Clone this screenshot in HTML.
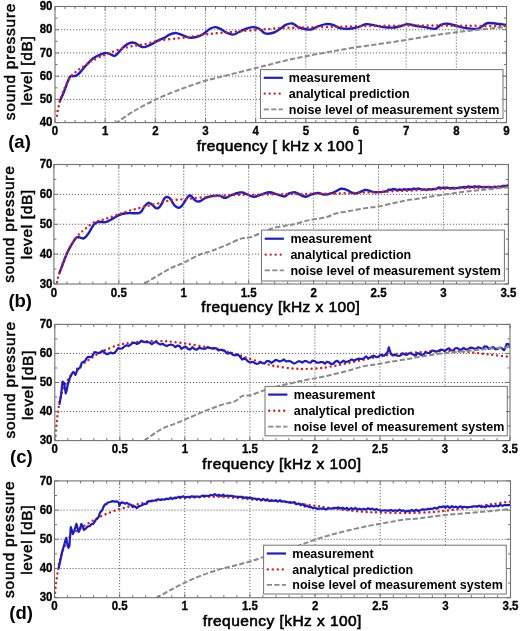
<!DOCTYPE html>
<html><head><meta charset="utf-8"><title>Sound pressure level plots</title>
<style>html,body{margin:0;padding:0;background:#fff;width:520px;height:631px;overflow:hidden}svg{display:block}</style>
</head><body>
<svg width="520" height="631" viewBox="0 0 520 631" font-family="'Liberation Sans', Arial, Helvetica, sans-serif" font-weight="bold" fill="#000">
<rect width="520" height="631" fill="#fff"/>
<clipPath id="clipa"><rect x="55.00" y="6.50" width="451.50" height="116.10"/></clipPath>
<path d="M105.17,6.50V122.60M155.33,6.50V122.60M205.50,6.50V122.60M255.67,6.50V122.60M305.83,6.50V122.60M356.00,6.50V122.60M406.17,6.50V122.60M456.33,6.50V122.60M55.00,99.38H506.50M55.00,76.16H506.50M55.00,52.94H506.50M55.00,29.72H506.50" stroke="#6c6c6c" stroke-width="1" stroke-dasharray="1.2 1.8" fill="none"/>
<g clip-path="url(#clipa)">
<path d="M59.72,101.47 C60.39,99.92 62.14,96.21 63.78,92.18 C65.42,88.16 68.00,79.99 69.55,77.32 C71.10,74.65 71.89,76.47 73.06,76.16 C74.23,75.85 75.40,76.08 76.57,75.46 C77.74,74.84 78.37,74.26 80.08,72.44 C81.80,70.63 84.77,66.83 86.86,64.55 C88.95,62.27 90.66,60.29 92.62,58.74 C94.59,57.20 96.55,56.23 98.65,55.26 C100.74,54.29 103.24,53.13 105.17,52.94 C107.09,52.75 108.59,53.60 110.18,54.10 C111.77,54.60 113.19,56.35 114.70,55.96 C116.20,55.57 117.54,53.44 119.21,51.78 C120.89,50.11 122.81,47.48 124.73,45.97 C126.65,44.46 129.00,43.19 130.75,42.72 C132.51,42.26 133.76,42.65 135.27,43.19 C136.77,43.73 138.28,45.32 139.78,45.97 C141.29,46.63 142.37,47.41 144.30,47.13 C146.22,46.86 148.98,45.47 151.32,44.35 C153.66,43.23 156.09,41.52 158.34,40.40 C160.60,39.28 163.03,38.58 164.87,37.61 C166.70,36.65 167.62,35.37 169.38,34.60 C171.14,33.82 173.23,32.89 175.40,32.97 C177.57,33.05 180.17,34.29 182.42,35.06 C184.68,35.83 186.52,37.31 188.94,37.61 C191.37,37.92 194.46,37.61 196.97,36.92 C199.48,36.22 201.82,34.79 204.00,33.44 C206.17,32.08 208.09,29.84 210.01,28.79 C211.94,27.75 213.61,27.05 215.53,27.17 C217.46,27.28 219.63,28.52 221.55,29.49 C223.48,30.46 225.15,32.12 227.07,32.97 C228.99,33.82 231.17,34.71 233.09,34.60 C235.01,34.48 236.52,33.24 238.61,32.27 C240.70,31.31 243.29,29.64 245.63,28.79 C247.97,27.94 250.40,27.17 252.66,27.17 C254.91,27.17 257.09,27.75 259.18,28.79 C261.27,29.84 262.86,32.78 265.20,33.44 C267.54,34.09 270.72,33.51 273.23,32.74 C275.73,31.96 278.16,30.11 280.25,28.79 C282.34,27.48 283.76,25.73 285.77,24.84 C287.77,23.95 290.20,23.06 292.29,23.45 C294.38,23.84 296.39,26.28 298.31,27.17 C300.23,28.06 301.74,28.40 303.83,28.79 C305.92,29.18 308.51,29.87 310.85,29.49 C313.19,29.10 315.37,27.36 317.87,26.47 C320.38,25.58 323.39,24.42 325.90,24.15 C328.41,23.88 330.58,24.19 332.92,24.84 C335.26,25.50 337.27,27.44 339.95,28.09 C342.62,28.75 345.97,28.95 348.98,28.79 C351.99,28.64 355.16,27.94 358.01,27.17 C360.85,26.39 363.27,24.46 366.03,24.15 C368.79,23.84 371.64,24.81 374.56,25.31 C377.49,25.81 380.58,26.78 383.59,27.17 C386.60,27.55 390.03,27.75 392.62,27.63 C395.21,27.51 396.72,27.05 399.14,26.47 C401.57,25.89 404.41,24.26 407.17,24.15 C409.93,24.03 412.77,25.27 415.70,25.77 C418.62,26.28 421.47,26.66 424.73,27.17 C427.99,27.67 432.59,29.18 435.26,28.79 C437.94,28.40 438.69,25.70 440.78,24.84 C442.87,23.99 445.13,23.49 447.81,23.68 C450.48,23.88 453.74,25.27 456.83,26.00 C459.93,26.74 462.85,27.63 466.37,28.09 C469.88,28.56 474.48,29.60 477.90,28.79 C481.33,27.98 483.84,24.07 486.94,23.22 C490.03,22.37 493.21,23.41 496.47,23.68 C499.73,23.95 504.83,24.65 506.50,24.84" stroke="#1d1dc8" stroke-width="2.4" fill="none" stroke-linejoin="round" stroke-linecap="round"/>
<path d="M57.01,115.63 C57.34,113.85 57.88,109.21 59.01,104.95 C60.14,100.70 61.86,94.74 63.78,90.09 C65.70,85.45 68.39,80.22 70.55,77.09 C72.72,73.95 75.05,72.79 76.77,71.28 C78.49,69.77 79.33,69.08 80.89,68.03 C82.44,66.99 84.31,66.21 86.10,65.01 C87.89,63.81 88.44,62.54 91.62,60.83 C94.80,59.13 100.57,56.69 105.17,54.80 C109.77,52.90 114.53,50.93 119.21,49.46 C123.90,47.99 128.66,46.94 133.26,45.97 C137.86,45.01 142.29,44.58 146.81,43.65 C151.32,42.72 155.00,41.29 160.35,40.40 C165.70,39.51 173.56,38.97 178.91,38.31 C184.26,37.65 187.86,37.11 192.46,36.45 C197.06,35.80 201.49,34.98 206.50,34.36 C211.52,33.74 217.21,33.24 222.56,32.74 C227.91,32.24 232.84,31.81 238.61,31.35 C244.38,30.88 251.82,30.38 257.17,29.95 C262.52,29.53 266.12,29.14 270.72,28.79 C275.32,28.44 278.24,28.09 284.76,27.86 C291.28,27.63 300.65,27.59 309.85,27.40 C319.04,27.20 329.91,26.93 339.95,26.70 C349.98,26.47 360.10,26.18 370.05,26.00 C380.00,25.83 389.44,25.73 399.64,25.66 C409.85,25.58 420.13,25.52 431.25,25.54 C442.37,25.56 453.82,25.70 466.37,25.77 C478.91,25.85 499.81,25.97 506.50,26.00" stroke="#d42020" stroke-width="2.45" fill="none" stroke-dasharray="0 4.8" stroke-linecap="round"/>
<path d="M115.20,123.53 C118.42,121.40 127.70,114.78 134.51,110.76 C141.33,106.73 148.39,102.98 156.09,99.38 C163.79,95.78 172.52,92.26 180.72,89.16 C188.92,86.07 197.11,83.24 205.30,80.80 C213.49,78.37 220.65,76.86 229.88,74.53 C239.11,72.21 250.45,69.43 260.68,66.87 C270.92,64.32 281.04,61.49 291.28,59.21 C301.53,56.93 311.85,55.07 322.14,53.17 C332.42,51.28 341.49,49.65 352.99,47.83 C364.49,46.01 380.33,43.88 391.12,42.26 C401.90,40.63 409.43,39.39 417.71,38.08 C425.98,36.76 433.09,35.49 440.78,34.36 C448.47,33.24 456.17,32.27 463.86,31.35 C471.55,30.42 479.83,29.49 486.94,28.79 C494.04,28.09 503.24,27.44 506.50,27.17" stroke="#8a8a8a" stroke-width="2" fill="none" stroke-dasharray="5.2 2.3"/>
</g>
<rect x="260.50" y="69.60" width="242.50" height="48.80" fill="#fff" stroke="#737373" stroke-width="1"/>
<path d="M263.70,77.80H282.90" stroke="#1d1dc8" stroke-width="2.2"/>
<path d="M264.70,93.60H282.90" stroke="#d42020" stroke-width="2.4" stroke-dasharray="0 5" stroke-linecap="round"/>
<path d="M263.70,109.30H282.90" stroke="#8a8a8a" stroke-width="1.8" stroke-dasharray="5.2 2.3"/>
<text x="288.80" y="82.40" font-size="12.5">measurement</text>
<text x="288.80" y="98.20" font-size="12.5">analytical prediction</text>
<text x="288.80" y="113.90" font-size="12.5">noise level of measurement system</text>
<rect x="55.00" y="6.50" width="451.50" height="116.10" fill="none" stroke="#737373" stroke-width="1.1"/>
<path d="M55.00,122.60v-4.00M55.00,6.50v4.00M65.03,122.60v-2.50M65.03,6.50v2.50M75.07,122.60v-2.50M75.07,6.50v2.50M85.10,122.60v-2.50M85.10,6.50v2.50M95.13,122.60v-2.50M95.13,6.50v2.50M105.17,122.60v-4.00M105.17,6.50v4.00M115.20,122.60v-2.50M115.20,6.50v2.50M125.23,122.60v-2.50M125.23,6.50v2.50M135.27,122.60v-2.50M135.27,6.50v2.50M145.30,122.60v-2.50M145.30,6.50v2.50M155.33,122.60v-4.00M155.33,6.50v4.00M165.37,122.60v-2.50M165.37,6.50v2.50M175.40,122.60v-2.50M175.40,6.50v2.50M185.43,122.60v-2.50M185.43,6.50v2.50M195.47,122.60v-2.50M195.47,6.50v2.50M205.50,122.60v-4.00M205.50,6.50v4.00M215.53,122.60v-2.50M215.53,6.50v2.50M225.57,122.60v-2.50M225.57,6.50v2.50M235.60,122.60v-2.50M235.60,6.50v2.50M245.63,122.60v-2.50M245.63,6.50v2.50M255.67,122.60v-4.00M255.67,6.50v4.00M265.70,122.60v-2.50M265.70,6.50v2.50M275.73,122.60v-2.50M275.73,6.50v2.50M285.77,122.60v-2.50M285.77,6.50v2.50M295.80,122.60v-2.50M295.80,6.50v2.50M305.83,122.60v-4.00M305.83,6.50v4.00M315.87,122.60v-2.50M315.87,6.50v2.50M325.90,122.60v-2.50M325.90,6.50v2.50M335.93,122.60v-2.50M335.93,6.50v2.50M345.97,122.60v-2.50M345.97,6.50v2.50M356.00,122.60v-4.00M356.00,6.50v4.00M366.03,122.60v-2.50M366.03,6.50v2.50M376.07,122.60v-2.50M376.07,6.50v2.50M386.10,122.60v-2.50M386.10,6.50v2.50M396.13,122.60v-2.50M396.13,6.50v2.50M406.17,122.60v-4.00M406.17,6.50v4.00M416.20,122.60v-2.50M416.20,6.50v2.50M426.23,122.60v-2.50M426.23,6.50v2.50M436.27,122.60v-2.50M436.27,6.50v2.50M446.30,122.60v-2.50M446.30,6.50v2.50M456.33,122.60v-4.00M456.33,6.50v4.00M466.37,122.60v-2.50M466.37,6.50v2.50M476.40,122.60v-2.50M476.40,6.50v2.50M486.43,122.60v-2.50M486.43,6.50v2.50M496.47,122.60v-2.50M496.47,6.50v2.50M506.50,122.60v-4.00M506.50,6.50v4.00M55.00,122.60h4.00M506.50,122.60h-4.00M55.00,110.99h2.50M506.50,110.99h-2.50M55.00,99.38h4.00M506.50,99.38h-4.00M55.00,87.77h2.50M506.50,87.77h-2.50M55.00,76.16h4.00M506.50,76.16h-4.00M55.00,64.55h2.50M506.50,64.55h-2.50M55.00,52.94h4.00M506.50,52.94h-4.00M55.00,41.33h2.50M506.50,41.33h-2.50M55.00,29.72h4.00M506.50,29.72h-4.00M55.00,18.11h2.50M506.50,18.11h-2.50M55.00,6.50h4.00M506.50,6.50h-4.00" stroke="#737373" stroke-width="1" fill="none"/>
<text transform="translate(55.00,135.20) scale(0.94,1)" font-size="12.2" stroke="#000" stroke-width="0.3" text-anchor="middle">0</text>
<text transform="translate(105.17,135.20) scale(0.94,1)" font-size="12.2" stroke="#000" stroke-width="0.3" text-anchor="middle">1</text>
<text transform="translate(155.33,135.20) scale(0.94,1)" font-size="12.2" stroke="#000" stroke-width="0.3" text-anchor="middle">2</text>
<text transform="translate(205.50,135.20) scale(0.94,1)" font-size="12.2" stroke="#000" stroke-width="0.3" text-anchor="middle">3</text>
<text transform="translate(255.67,135.20) scale(0.94,1)" font-size="12.2" stroke="#000" stroke-width="0.3" text-anchor="middle">4</text>
<text transform="translate(305.83,135.20) scale(0.94,1)" font-size="12.2" stroke="#000" stroke-width="0.3" text-anchor="middle">5</text>
<text transform="translate(356.00,135.20) scale(0.94,1)" font-size="12.2" stroke="#000" stroke-width="0.3" text-anchor="middle">6</text>
<text transform="translate(406.17,135.20) scale(0.94,1)" font-size="12.2" stroke="#000" stroke-width="0.3" text-anchor="middle">7</text>
<text transform="translate(456.33,135.20) scale(0.94,1)" font-size="12.2" stroke="#000" stroke-width="0.3" text-anchor="middle">8</text>
<text transform="translate(506.50,135.20) scale(0.94,1)" font-size="12.2" stroke="#000" stroke-width="0.3" text-anchor="middle">9</text>
<text transform="translate(52.4,126.30) scale(0.94,1)" font-size="12.2" stroke="#000" stroke-width="0.3" text-anchor="end">40</text>
<text transform="translate(52.4,103.08) scale(0.94,1)" font-size="12.2" stroke="#000" stroke-width="0.3" text-anchor="end">50</text>
<text transform="translate(52.4,79.86) scale(0.94,1)" font-size="12.2" stroke="#000" stroke-width="0.3" text-anchor="end">60</text>
<text transform="translate(52.4,56.64) scale(0.94,1)" font-size="12.2" stroke="#000" stroke-width="0.3" text-anchor="end">70</text>
<text transform="translate(52.4,33.42) scale(0.94,1)" font-size="12.2" stroke="#000" stroke-width="0.3" text-anchor="end">80</text>
<text transform="translate(52.4,10.20) scale(0.94,1)" font-size="12.2" stroke="#000" stroke-width="0.3" text-anchor="end">90</text>
<text x="196.70" y="150.80" font-size="15.5" font-weight="normal" letter-spacing="0.35" stroke="#000" stroke-width="0.6">frequency [ kHz x 100 ]</text>
<text transform="translate(14.60,61.50) rotate(-90)" font-size="15.5" font-weight="normal" letter-spacing="0.75" stroke="#000" stroke-width="0.5" text-anchor="middle">sound pressure</text>
<text transform="translate(32.30,70.60) rotate(-90)" font-size="15.5" font-weight="normal" letter-spacing="0.62" stroke="#000" stroke-width="0.5" text-anchor="middle">level [dB]</text>
<text x="8.20" y="147.70" font-size="18.5">(a)</text>
<clipPath id="clipb"><rect x="53.90" y="164.50" width="454.50" height="119.50"/></clipPath>
<path d="M118.83,164.50V284.00M183.76,164.50V284.00M248.69,164.50V284.00M313.61,164.50V284.00M378.54,164.50V284.00M443.47,164.50V284.00M53.90,254.12H508.40M53.90,224.25H508.40M53.90,194.38H508.40" stroke="#6c6c6c" stroke-width="1" stroke-dasharray="1.2 1.8" fill="none"/>
<g clip-path="url(#clipb)">
<path d="M59.35,273.25 L60.22,270.93 L61.04,268.77 L61.94,266.38 L62.86,263.98 L63.54,262.17 L64.25,260.23 L64.99,258.23 L65.76,256.22 L66.56,254.23 L67.41,252.33 L68.42,250.28 L69.54,248.19 L70.69,246.16 L71.80,244.26 L72.81,242.60 L74.08,240.53 L75.40,238.58 L76.62,237.39 L78.77,237.14 L81.02,237.93 L83.51,238.59 L84.95,237.61 L86.51,235.96 L88.18,233.81 L89.28,232.14 L90.44,230.11 L91.64,228.00 L92.80,226.05 L93.90,224.55 L95.73,222.86 L97.51,222.10 L99.59,221.78 L101.87,222.05 L104.28,222.28 L106.44,221.88 L108.40,221.03 L110.37,219.96 L112.34,218.87 L114.30,217.75 L116.26,216.54 L118.23,215.44 L120.21,214.61 L122.22,213.98 L124.23,213.52 L126.23,213.20 L128.53,213.09 L130.81,213.17 L133.11,213.20 L135.18,213.24 L137.28,213.30 L139.24,213.00 L140.83,212.04 L142.08,210.43 L143.21,208.51 L144.27,206.73 L145.63,205.07 L147.17,203.49 L148.70,202.74 L150.64,203.52 L152.59,205.13 L154.15,206.65 L155.71,208.11 L157.44,208.36 L159.35,207.18 L160.87,205.31 L161.89,203.36 L162.95,201.11 L164.01,199.05 L165.06,197.66 L167.33,196.84 L169.60,197.96 L170.77,199.37 L171.94,201.40 L173.11,203.49 L174.28,205.13 L176.15,206.79 L177.98,207.70 L179.74,207.63 L181.39,206.24 L182.87,204.42 L184.06,202.57 L185.30,200.52 L186.48,198.67 L187.88,196.79 L189.36,195.29 L190.97,195.71 L192.59,197.57 L194.27,199.64 L196.12,201.03 L198.15,201.67 L200.10,201.27 L201.72,200.26 L203.50,199.01 L205.44,197.96 L207.38,197.28 L209.51,196.69 L211.65,196.21 L213.62,195.87 L215.97,195.64 L218.13,195.64 L220.12,195.87 L222.12,196.80 L223.97,197.83 L225.90,197.80 L227.70,197.02 L229.65,195.95 L231.80,194.97 L233.72,194.26 L235.85,193.49 L238.00,192.81 L240.00,192.37 L242.08,192.35 L244.08,193.01 L245.97,193.95 L247.93,194.74 L249.84,195.63 L251.82,196.42 L253.88,196.76 L255.76,196.50 L257.72,195.85 L259.70,195.06 L261.67,194.38 L263.60,193.73 L265.51,193.03 L267.45,192.48 L269.46,192.28 L271.38,192.53 L273.39,193.07 L275.39,193.76 L277.29,194.41 L279.40,195.06 L281.69,195.91 L283.73,196.45 L285.63,196.15 L287.20,194.77 L288.94,193.48 L290.91,192.83 L293.08,192.37 L295.04,192.28 L297.19,193.11 L299.33,194.38 L301.25,195.32 L303.37,196.29 L305.43,196.76 L307.63,196.24 L309.81,195.14 L311.97,194.37 L314.04,193.70 L316.17,193.12 L318.16,192.88 L320.18,193.32 L322.06,194.16 L324.00,194.67 L326.14,194.54 L328.35,194.08 L330.50,193.48 L332.58,192.77 L334.61,191.93 L336.47,191.09 L338.27,189.96 L339.93,188.95 L341.78,188.66 L343.71,188.92 L345.78,189.51 L347.82,190.32 L349.86,191.51 L351.93,192.73 L353.87,193.48 L356.24,193.40 L358.45,192.68 L360.56,191.91 L362.52,190.90 L364.53,190.06 L366.63,189.96 L368.88,190.60 L371.06,191.41 L373.32,191.95 L375.55,192.25 L377.88,192.27 L380.16,192.15 L382.56,191.89 L384.73,191.45 L386.74,191.25 L388.75,189.56 L390.75,189.96 L392.98,188.99 L395.20,189.47 L397.63,189.99 L399.65,189.52 L401.79,189.93 L404.05,189.29 L406.46,189.75 L408.32,189.27 L410.27,189.51 L412.29,189.06 L414.36,188.74 L416.45,189.07 L418.47,188.53 L420.46,189.09 L422.50,189.45 L424.55,189.41 L426.59,190.07 L428.59,189.13 L430.63,189.51 L432.70,189.19 L434.74,189.05 L436.77,188.63 L438.81,187.50 L440.87,187.95 L442.98,187.84 L445.10,187.76 L447.23,187.79 L449.36,188.11 L451.50,188.30 L453.62,187.95 L455.75,188.20 L457.87,187.91 L460.00,187.54 L462.12,187.38 L464.25,187.01 L466.37,187.43 L468.50,186.40 L470.62,186.94 L472.75,186.94 L474.87,186.40 L477.00,187.00 L479.12,186.37 L481.25,187.21 L483.37,186.86 L485.50,187.12 L487.62,187.04 L489.78,187.00 L491.98,187.65 L494.17,186.74 L496.31,187.24 L498.35,186.57 L500.48,186.82 L502.87,185.99 L505.13,185.95 L507.04,185.84 L508.40,185.13" stroke="#1d1dc8" stroke-width="2.4" fill="none" stroke-linejoin="round" stroke-linecap="round"/>
<path d="M57.02,282.21 C57.41,280.71 57.82,277.83 59.35,273.25 C60.89,268.66 63.55,260.50 66.24,254.72 C68.92,248.95 72.38,242.82 75.46,238.59 C78.53,234.36 81.60,232.02 84.68,229.33 C87.75,226.64 90.43,224.20 93.90,222.46 C97.36,220.71 101.23,220.27 105.45,218.87 C109.67,217.48 114.61,215.64 119.22,214.09 C123.83,212.55 128.48,210.96 133.11,209.61 C137.74,208.27 142.38,207.17 147.01,206.03 C151.64,204.88 157.05,203.69 160.90,202.74 C164.75,201.79 165.66,201.00 170.12,200.35 C174.58,199.70 180.84,199.50 187.65,198.86 C194.47,198.21 203.24,197.11 211.03,196.47 C218.82,195.82 226.67,195.27 234.40,194.97 C242.13,194.67 248.95,194.82 257.39,194.67 C265.83,194.52 275.46,194.23 285.05,194.08 C294.63,193.93 304.22,193.93 314.91,193.78 C325.60,193.63 337.72,193.53 349.20,193.18 C360.67,192.83 372.35,192.18 383.74,191.69 C395.12,191.19 407.98,190.64 417.50,190.19 C427.02,189.74 431.13,189.40 440.87,189.00 C450.61,188.60 464.68,188.20 475.94,187.80 C487.19,187.40 502.99,186.81 508.40,186.61" stroke="#d42020" stroke-width="2.45" fill="none" stroke-dasharray="0 4.8" stroke-linecap="round"/>
<path d="M144.80,283.40 C149.02,280.91 163.63,271.90 170.12,268.46 C176.62,265.03 178.89,265.08 183.76,262.79 C188.63,260.50 194.80,256.66 199.34,254.72 C203.88,252.78 206.70,252.68 211.03,251.14 C215.36,249.59 220.33,247.55 225.31,245.46 C230.29,243.37 236.78,239.93 240.89,238.59 C245.01,237.25 246.52,238.39 249.98,237.39 C253.45,236.40 257.78,234.16 261.67,232.61 C265.57,231.07 269.46,229.28 273.36,228.13 C277.25,226.99 281.63,226.39 285.05,225.74 C288.47,225.10 289.76,225.20 293.88,224.25 C297.99,223.30 304.26,221.26 309.72,220.07 C315.17,218.87 322.27,218.18 326.60,217.08 C330.93,215.98 331.92,214.49 335.69,213.50 C339.46,212.50 344.22,212.00 349.20,211.11 C354.17,210.21 360.56,208.91 365.56,208.12 C370.56,207.32 374.28,207.22 379.19,206.32 C384.11,205.43 390.49,203.74 395.03,202.74 C399.58,201.74 402.72,201.00 406.46,200.35 C410.21,199.70 413.65,199.45 417.50,198.86 C421.35,198.26 425.68,197.41 429.58,196.76 C433.47,196.12 437.04,195.52 440.87,194.97 C444.71,194.42 448.67,194.03 452.56,193.48 C456.46,192.93 460.35,192.18 464.25,191.69 C468.14,191.19 472.04,190.89 475.94,190.49 C479.83,190.09 482.21,189.84 487.62,189.30 C493.03,188.75 504.94,187.55 508.40,187.21" stroke="#8a8a8a" stroke-width="2" fill="none" stroke-dasharray="5.2 2.3"/>
</g>
<rect x="261.50" y="230.10" width="242.90" height="50.90" fill="#fff" stroke="#737373" stroke-width="1"/>
<path d="M264.70,238.70H283.90" stroke="#1d1dc8" stroke-width="2.2"/>
<path d="M265.70,254.60H283.90" stroke="#d42020" stroke-width="2.4" stroke-dasharray="0 5" stroke-linecap="round"/>
<path d="M264.70,270.40H283.90" stroke="#8a8a8a" stroke-width="1.8" stroke-dasharray="5.2 2.3"/>
<text x="290.40" y="243.30" font-size="12.5">measurement</text>
<text x="290.40" y="259.20" font-size="12.5">analytical prediction</text>
<text x="290.40" y="275.00" font-size="12.5">noise level of measurement system</text>
<rect x="53.90" y="164.50" width="454.50" height="119.50" fill="none" stroke="#737373" stroke-width="1.1"/>
<path d="M53.90,284.00v-4.00M53.90,164.50v4.00M66.89,284.00v-2.50M66.89,164.50v2.50M79.87,284.00v-2.50M79.87,164.50v2.50M92.86,284.00v-2.50M92.86,164.50v2.50M105.84,284.00v-2.50M105.84,164.50v2.50M118.83,284.00v-4.00M118.83,164.50v4.00M131.81,284.00v-2.50M131.81,164.50v2.50M144.80,284.00v-2.50M144.80,164.50v2.50M157.79,284.00v-2.50M157.79,164.50v2.50M170.77,284.00v-2.50M170.77,164.50v2.50M183.76,284.00v-4.00M183.76,164.50v4.00M196.74,284.00v-2.50M196.74,164.50v2.50M209.73,284.00v-2.50M209.73,164.50v2.50M222.71,284.00v-2.50M222.71,164.50v2.50M235.70,284.00v-2.50M235.70,164.50v2.50M248.69,284.00v-4.00M248.69,164.50v4.00M261.67,284.00v-2.50M261.67,164.50v2.50M274.66,284.00v-2.50M274.66,164.50v2.50M287.64,284.00v-2.50M287.64,164.50v2.50M300.63,284.00v-2.50M300.63,164.50v2.50M313.61,284.00v-4.00M313.61,164.50v4.00M326.60,284.00v-2.50M326.60,164.50v2.50M339.59,284.00v-2.50M339.59,164.50v2.50M352.57,284.00v-2.50M352.57,164.50v2.50M365.56,284.00v-2.50M365.56,164.50v2.50M378.54,284.00v-4.00M378.54,164.50v4.00M391.53,284.00v-2.50M391.53,164.50v2.50M404.51,284.00v-2.50M404.51,164.50v2.50M417.50,284.00v-2.50M417.50,164.50v2.50M430.49,284.00v-2.50M430.49,164.50v2.50M443.47,284.00v-4.00M443.47,164.50v4.00M456.46,284.00v-2.50M456.46,164.50v2.50M469.44,284.00v-2.50M469.44,164.50v2.50M482.43,284.00v-2.50M482.43,164.50v2.50M495.41,284.00v-2.50M495.41,164.50v2.50M508.40,284.00v-4.00M508.40,164.50v4.00M53.90,284.00h4.00M508.40,284.00h-4.00M53.90,269.06h2.50M508.40,269.06h-2.50M53.90,254.12h4.00M508.40,254.12h-4.00M53.90,239.19h2.50M508.40,239.19h-2.50M53.90,224.25h4.00M508.40,224.25h-4.00M53.90,209.31h2.50M508.40,209.31h-2.50M53.90,194.38h4.00M508.40,194.38h-4.00M53.90,179.44h2.50M508.40,179.44h-2.50M53.90,164.50h4.00M508.40,164.50h-4.00" stroke="#737373" stroke-width="1" fill="none"/>
<text transform="translate(53.90,296.60) scale(0.94,1)" font-size="12.2" stroke="#000" stroke-width="0.3" text-anchor="middle">0</text>
<text transform="translate(118.83,296.60) scale(0.94,1)" font-size="12.2" stroke="#000" stroke-width="0.3" text-anchor="middle">0.5</text>
<text transform="translate(183.76,296.60) scale(0.94,1)" font-size="12.2" stroke="#000" stroke-width="0.3" text-anchor="middle">1</text>
<text transform="translate(248.69,296.60) scale(0.94,1)" font-size="12.2" stroke="#000" stroke-width="0.3" text-anchor="middle">1.5</text>
<text transform="translate(313.61,296.60) scale(0.94,1)" font-size="12.2" stroke="#000" stroke-width="0.3" text-anchor="middle">2</text>
<text transform="translate(378.54,296.60) scale(0.94,1)" font-size="12.2" stroke="#000" stroke-width="0.3" text-anchor="middle">2.5</text>
<text transform="translate(443.47,296.60) scale(0.94,1)" font-size="12.2" stroke="#000" stroke-width="0.3" text-anchor="middle">3</text>
<text transform="translate(508.40,296.60) scale(0.94,1)" font-size="12.2" stroke="#000" stroke-width="0.3" text-anchor="middle">3.5</text>
<text transform="translate(52.4,287.70) scale(0.94,1)" font-size="12.2" stroke="#000" stroke-width="0.3" text-anchor="end">30</text>
<text transform="translate(52.4,257.82) scale(0.94,1)" font-size="12.2" stroke="#000" stroke-width="0.3" text-anchor="end">40</text>
<text transform="translate(52.4,227.95) scale(0.94,1)" font-size="12.2" stroke="#000" stroke-width="0.3" text-anchor="end">50</text>
<text transform="translate(52.4,198.07) scale(0.94,1)" font-size="12.2" stroke="#000" stroke-width="0.3" text-anchor="end">60</text>
<text transform="translate(52.4,168.20) scale(0.94,1)" font-size="12.2" stroke="#000" stroke-width="0.3" text-anchor="end">70</text>
<text x="201.20" y="311.50" font-size="15.5" font-weight="normal" letter-spacing="0.44" stroke="#000" stroke-width="0.6">frequency [kHz x 100]</text>
<text transform="translate(14.30,224.10) rotate(-90)" font-size="15.5" font-weight="normal" letter-spacing="0.75" stroke="#000" stroke-width="0.5" text-anchor="middle">sound pressure</text>
<text transform="translate(31.70,224.20) rotate(-90)" font-size="15.5" font-weight="normal" letter-spacing="0.62" stroke="#000" stroke-width="0.5" text-anchor="middle">level [dB]</text>
<text x="8.40" y="306.80" font-size="18.5">(b)</text>
<clipPath id="clipc"><rect x="54.80" y="324.40" width="455.20" height="116.20"/></clipPath>
<path d="M119.83,324.40V440.60M184.86,324.40V440.60M249.89,324.40V440.60M314.91,324.40V440.60M379.94,324.40V440.60M444.97,324.40V440.60M54.80,411.55H510.00M54.80,382.50H510.00M54.80,353.45H510.00" stroke="#6c6c6c" stroke-width="1" stroke-dasharray="1.2 1.8" fill="none"/>
<g clip-path="url(#clipc)">
<path d="M55.06,440.31 C55.30,437.69 55.99,429.42 56.49,424.62 C56.99,419.83 57.40,415.96 58.05,411.55 C58.70,407.14 59.40,402.30 60.39,398.19 C61.39,394.07 62.58,390.25 64.03,386.86 C65.49,383.47 67.20,380.61 69.11,377.85 C71.01,375.09 73.16,372.62 75.48,370.30 C77.80,367.97 80.29,365.99 83.02,363.91 C85.75,361.83 88.92,359.79 91.87,357.81 C94.81,355.82 98.17,353.40 100.71,352.00 C103.25,350.59 104.63,350.40 107.08,349.38 C109.53,348.37 112.72,346.82 115.41,345.90 C118.09,344.98 120.63,344.40 123.21,343.86 C125.79,343.33 127.55,343.09 130.88,342.70 C134.22,342.31 139.40,341.83 143.24,341.54 C147.08,341.25 150.33,341.01 153.90,340.96 C157.48,340.91 161.99,341.15 164.70,341.25 C167.41,341.35 166.69,341.15 170.16,341.54 C173.63,341.93 180.37,342.80 185.51,343.57 C190.64,344.35 196.63,345.41 200.98,346.19 C205.34,346.96 207.83,347.45 211.65,348.22 C215.46,349.00 220.02,349.92 223.87,350.84 C227.73,351.76 230.94,352.58 234.80,353.74 C238.66,354.90 242.47,356.31 247.02,357.81 C251.58,359.31 257.28,361.34 262.11,362.75 C266.94,364.15 270.69,365.26 276.03,366.23 C281.36,367.20 288.77,368.12 294.11,368.56 C299.44,368.99 303.40,368.94 308.02,368.85 C312.64,368.75 317.19,368.51 321.81,367.98 C326.42,367.44 331.08,366.52 335.72,365.65 C340.36,364.78 345.02,363.71 349.64,362.75 C354.26,361.78 358.81,360.81 363.43,359.84 C368.04,358.87 372.70,357.81 377.34,356.94 C381.98,356.06 384.39,355.39 391.26,354.61 C398.13,353.84 410.16,352.87 418.57,352.29 C426.98,351.71 434.02,351.22 441.72,351.13 C449.42,351.03 457.05,351.17 464.74,351.71 C472.44,352.24 480.35,353.45 487.89,354.32 C495.43,355.19 506.32,356.50 510.00,356.94" stroke="#d42020" stroke-width="2.45" fill="none" stroke-dasharray="0 4.8" stroke-linecap="round"/>
<path d="M59.48,404.00 L59.85,402.00 L60.23,400.01 L60.60,398.02 L60.90,395.99 L61.15,393.92 L61.39,391.85 L61.64,389.78 L61.88,387.71 L62.12,385.64 L62.37,383.57 L62.61,381.50 L64.19,382.96 L64.49,385.04 L64.79,387.12 L65.10,389.21 L65.40,391.29 L65.70,393.37 L66.44,391.45 L66.83,389.47 L67.22,387.50 L67.61,385.52 L68.11,383.55 L68.73,381.59 L69.35,379.63 L69.97,377.67 L70.82,375.77 L71.90,373.93 L72.99,372.09 L74.50,373.06 L75.48,374.95 L76.21,372.86 L76.94,370.76 L78.34,368.94 L80.42,367.39 L81.07,365.07 L81.72,362.75 L83.46,361.83 L85.10,361.04 L86.66,358.05 L88.35,356.74 L90.57,357.25 L92.73,355.57 L94.47,352.11 L96.55,352.47 L98.63,353.10 L100.71,352.46 L102.73,350.68 L104.74,352.80 L106.74,354.17 L108.77,353.60 L110.85,352.56 L112.68,353.42 L114.50,352.90 L116.34,350.70 L118.22,348.11 L120.09,348.78 L122.36,348.39 L124.64,346.30 L126.72,345.25 L128.80,345.90 L130.88,344.32 L132.92,342.89 L134.96,342.74 L137.00,344.01 L139.08,343.06 L141.16,340.71 L143.24,341.65 L145.51,342.14 L147.79,342.21 L149.83,342.57 L151.87,344.18 L153.90,342.59 L156.13,341.92 L158.36,343.47 L160.59,344.54 L162.73,343.65 L164.76,345.28 L166.80,346.05 L168.89,345.03 L171.04,344.56 L173.18,345.26 L175.33,347.23 L177.42,345.59 L179.46,345.81 L181.50,348.86 L183.61,347.36 L185.80,346.66 L188.00,348.85 L190.19,349.60 L192.38,347.17 L194.57,349.07 L196.77,349.61 L198.96,347.92 L201.15,348.33 L203.34,348.79 L205.54,348.62 L207.57,347.07 L209.61,347.90 L211.65,348.44 L213.99,348.06 L216.33,348.34 L218.41,350.48 L220.47,349.78 L222.51,349.96 L224.55,350.64 L226.58,353.36 L228.62,353.34 L230.66,352.64 L232.65,354.80 L234.60,355.33 L236.55,354.81 L238.51,355.08 L240.42,357.20 L242.31,359.56 L244.20,358.20 L246.08,359.50 L248.11,361.53 L250.28,362.55 L252.36,361.81 L254.44,362.89 L256.52,363.79 L258.59,363.48 L260.64,361.98 L262.69,363.20 L264.74,363.26 L266.79,361.06 L269.09,361.20 L271.39,362.96 L273.69,361.40 L275.69,359.81 L277.70,360.44 L279.71,361.50 L281.79,360.75 L283.96,359.43 L286.13,361.54 L288.20,360.95 L290.17,361.28 L292.14,362.39 L294.11,363.64 L296.16,362.61 L298.21,361.37 L300.26,361.43 L302.31,362.71 L304.37,361.15 L306.42,361.18 L308.47,362.42 L310.52,362.67 L312.57,360.65 L314.63,360.98 L316.68,362.66 L318.73,362.71 L320.78,361.98 L322.85,362.04 L324.93,363.58 L327.01,361.72 L329.09,362.37 L331.17,364.07 L333.22,363.60 L335.28,361.62 L337.33,360.83 L339.38,362.80 L341.43,362.34 L343.48,360.73 L345.54,362.16 L347.59,361.54 L349.64,360.68 L351.69,359.31 L353.74,360.63 L355.80,359.76 L357.85,358.78 L359.90,358.72 L361.95,359.03 L364.00,358.20 L366.06,356.37 L368.11,358.24 L370.16,357.63 L372.21,356.15 L374.26,355.84 L376.32,357.23 L378.33,356.80 L380.30,354.97 L382.27,354.89 L384.23,355.71 L386.58,353.38 L387.98,351.15 L388.45,348.71 L388.92,347.38 L389.52,349.49 L390.13,351.34 L390.74,353.61 L392.77,355.58 L394.80,354.91 L396.81,355.51 L398.82,355.95 L400.83,355.27 L402.84,353.29 L404.85,354.50 L406.86,354.95 L408.99,353.25 L411.12,353.49 L413.25,354.49 L415.38,355.72 L417.51,353.10 L419.61,354.03 L421.69,355.22 L423.77,354.15 L425.85,352.25 L427.93,353.03 L430.01,352.84 L432.14,350.48 L434.27,350.91 L436.40,351.72 L438.53,350.75 L440.66,349.62 L442.76,349.88 L444.84,350.94 L446.92,349.31 L449.00,348.30 L451.08,350.26 L453.17,350.57 L455.27,348.23 L457.37,348.08 L459.48,349.62 L461.58,349.56 L463.69,347.95 L465.78,349.34 L467.86,349.44 L469.94,347.89 L472.02,347.67 L474.10,348.64 L476.19,348.82 L478.31,347.20 L480.44,347.93 L482.57,348.88 L484.70,346.28 L486.83,346.48 L488.95,348.99 L491.08,347.94 L493.21,346.97 L495.34,349.13 L497.47,348.98 L499.60,347.58 L501.81,348.29 L504.02,350.17 L505.37,347.53 L506.72,343.86 L509.13,344.38 L510.00,347.19" stroke="#1d1dc8" stroke-width="2.2" fill="none" stroke-linejoin="round" stroke-linecap="round"/>
<path d="M144.54,440.60 C147.27,438.71 155.62,432.18 160.93,429.27 C166.24,426.37 171.29,425.25 176.40,423.17 C181.52,421.09 186.50,418.96 191.62,416.78 C196.74,414.60 201.96,412.13 207.10,410.10 C212.23,408.06 217.83,406.03 222.44,404.58 C227.06,403.13 231.46,402.83 234.80,401.38 C238.14,399.93 239.89,396.88 242.47,395.86 C245.05,394.85 246.94,396.11 250.28,395.28 C253.61,394.46 258.23,392.33 262.50,390.92 C266.77,389.52 270.63,388.26 275.90,386.86 C281.16,385.45 288.75,383.71 294.11,382.50 C299.46,381.29 303.40,380.51 308.02,379.60 C312.64,378.68 317.19,377.95 321.81,376.98 C326.42,376.01 331.08,374.90 335.72,373.78 C340.36,372.67 345.02,371.56 349.64,370.30 C354.26,369.04 358.81,367.25 363.43,366.23 C368.04,365.22 372.70,364.97 377.34,364.20 C381.98,363.42 386.34,362.41 391.26,361.58 C396.18,360.76 402.31,360.03 406.86,359.26 C411.42,358.49 414.71,357.61 418.57,356.94 C422.43,356.26 426.16,355.77 430.01,355.19 C433.87,354.61 437.86,353.93 441.72,353.45 C445.58,352.97 449.33,352.68 453.17,352.29 C457.00,351.90 460.90,351.51 464.74,351.13 C468.58,350.74 472.33,350.35 476.19,349.96 C480.04,349.58 482.25,349.29 487.89,348.80 C493.53,348.32 506.32,347.35 510.00,347.06" stroke="#8a8a8a" stroke-width="2" fill="none" stroke-dasharray="5.2 2.3"/>
</g>
<rect x="265.00" y="386.40" width="242.30" height="49.40" fill="#fff" stroke="#737373" stroke-width="1"/>
<path d="M268.20,394.60H287.40" stroke="#1d1dc8" stroke-width="2.2"/>
<path d="M269.20,410.80H287.40" stroke="#d42020" stroke-width="2.4" stroke-dasharray="0 5" stroke-linecap="round"/>
<path d="M268.20,426.70H287.40" stroke="#8a8a8a" stroke-width="1.8" stroke-dasharray="5.2 2.3"/>
<text x="293.80" y="399.20" font-size="12.5">measurement</text>
<text x="293.80" y="415.40" font-size="12.5">analytical prediction</text>
<text x="293.80" y="431.30" font-size="12.5">noise level of measurement system</text>
<rect x="54.80" y="324.40" width="455.20" height="116.20" fill="none" stroke="#737373" stroke-width="1.1"/>
<path d="M54.80,440.60v-4.00M54.80,324.40v4.00M67.81,440.60v-2.50M67.81,324.40v2.50M80.81,440.60v-2.50M80.81,324.40v2.50M93.82,440.60v-2.50M93.82,324.40v2.50M106.82,440.60v-2.50M106.82,324.40v2.50M119.83,440.60v-4.00M119.83,324.40v4.00M132.83,440.60v-2.50M132.83,324.40v2.50M145.84,440.60v-2.50M145.84,324.40v2.50M158.85,440.60v-2.50M158.85,324.40v2.50M171.85,440.60v-2.50M171.85,324.40v2.50M184.86,440.60v-4.00M184.86,324.40v4.00M197.86,440.60v-2.50M197.86,324.40v2.50M210.87,440.60v-2.50M210.87,324.40v2.50M223.87,440.60v-2.50M223.87,324.40v2.50M236.88,440.60v-2.50M236.88,324.40v2.50M249.89,440.60v-4.00M249.89,324.40v4.00M262.89,440.60v-2.50M262.89,324.40v2.50M275.90,440.60v-2.50M275.90,324.40v2.50M288.90,440.60v-2.50M288.90,324.40v2.50M301.91,440.60v-2.50M301.91,324.40v2.50M314.91,440.60v-4.00M314.91,324.40v4.00M327.92,440.60v-2.50M327.92,324.40v2.50M340.93,440.60v-2.50M340.93,324.40v2.50M353.93,440.60v-2.50M353.93,324.40v2.50M366.94,440.60v-2.50M366.94,324.40v2.50M379.94,440.60v-4.00M379.94,324.40v4.00M392.95,440.60v-2.50M392.95,324.40v2.50M405.95,440.60v-2.50M405.95,324.40v2.50M418.96,440.60v-2.50M418.96,324.40v2.50M431.97,440.60v-2.50M431.97,324.40v2.50M444.97,440.60v-4.00M444.97,324.40v4.00M457.98,440.60v-2.50M457.98,324.40v2.50M470.98,440.60v-2.50M470.98,324.40v2.50M483.99,440.60v-2.50M483.99,324.40v2.50M496.99,440.60v-2.50M496.99,324.40v2.50M510.00,440.60v-4.00M510.00,324.40v4.00M54.80,440.60h4.00M510.00,440.60h-4.00M54.80,426.08h2.50M510.00,426.08h-2.50M54.80,411.55h4.00M510.00,411.55h-4.00M54.80,397.02h2.50M510.00,397.02h-2.50M54.80,382.50h4.00M510.00,382.50h-4.00M54.80,367.98h2.50M510.00,367.98h-2.50M54.80,353.45h4.00M510.00,353.45h-4.00M54.80,338.92h2.50M510.00,338.92h-2.50M54.80,324.40h4.00M510.00,324.40h-4.00" stroke="#737373" stroke-width="1" fill="none"/>
<text transform="translate(54.80,453.20) scale(0.94,1)" font-size="12.2" stroke="#000" stroke-width="0.3" text-anchor="middle">0</text>
<text transform="translate(119.83,453.20) scale(0.94,1)" font-size="12.2" stroke="#000" stroke-width="0.3" text-anchor="middle">0.5</text>
<text transform="translate(184.86,453.20) scale(0.94,1)" font-size="12.2" stroke="#000" stroke-width="0.3" text-anchor="middle">1</text>
<text transform="translate(249.89,453.20) scale(0.94,1)" font-size="12.2" stroke="#000" stroke-width="0.3" text-anchor="middle">1.5</text>
<text transform="translate(314.91,453.20) scale(0.94,1)" font-size="12.2" stroke="#000" stroke-width="0.3" text-anchor="middle">2</text>
<text transform="translate(379.94,453.20) scale(0.94,1)" font-size="12.2" stroke="#000" stroke-width="0.3" text-anchor="middle">2.5</text>
<text transform="translate(444.97,453.20) scale(0.94,1)" font-size="12.2" stroke="#000" stroke-width="0.3" text-anchor="middle">3</text>
<text transform="translate(510.00,453.20) scale(0.94,1)" font-size="12.2" stroke="#000" stroke-width="0.3" text-anchor="middle">3.5</text>
<text transform="translate(52.4,444.30) scale(0.94,1)" font-size="12.2" stroke="#000" stroke-width="0.3" text-anchor="end">30</text>
<text transform="translate(52.4,415.25) scale(0.94,1)" font-size="12.2" stroke="#000" stroke-width="0.3" text-anchor="end">40</text>
<text transform="translate(52.4,386.20) scale(0.94,1)" font-size="12.2" stroke="#000" stroke-width="0.3" text-anchor="end">50</text>
<text transform="translate(52.4,357.15) scale(0.94,1)" font-size="12.2" stroke="#000" stroke-width="0.3" text-anchor="end">60</text>
<text transform="translate(52.4,328.10) scale(0.94,1)" font-size="12.2" stroke="#000" stroke-width="0.3" text-anchor="end">70</text>
<text x="202.30" y="468.80" font-size="15.5" font-weight="normal" letter-spacing="0.44" stroke="#000" stroke-width="0.6">frequency [kHz x 100]</text>
<text transform="translate(15.20,379.90) rotate(-90)" font-size="15.5" font-weight="normal" letter-spacing="0.75" stroke="#000" stroke-width="0.5" text-anchor="middle">sound pressure</text>
<text transform="translate(32.90,385.10) rotate(-90)" font-size="15.5" font-weight="normal" letter-spacing="0.62" stroke="#000" stroke-width="0.5" text-anchor="middle">level [dB]</text>
<text x="10.00" y="462.90" font-size="18.5">(c)</text>
<clipPath id="clipd"><rect x="54.50" y="480.90" width="456.00" height="116.80"/></clipPath>
<path d="M119.64,480.90V597.70M184.79,480.90V597.70M249.93,480.90V597.70M315.07,480.90V597.70M380.21,480.90V597.70M445.36,480.90V597.70M54.50,568.50H510.50M54.50,539.30H510.50M54.50,510.10H510.50" stroke="#6c6c6c" stroke-width="1" stroke-dasharray="1.2 1.8" fill="none"/>
<g clip-path="url(#clipd)">
<path d="M54.63,597.41 C54.83,595.46 55.35,589.62 55.80,585.73 C56.26,581.83 56.80,577.89 57.37,574.05 C57.93,570.20 58.30,566.46 59.19,562.66 C60.08,558.86 61.36,554.92 62.71,551.27 C64.05,547.62 65.53,543.68 67.27,540.76 C69.01,537.84 70.61,536.04 73.13,533.75 C75.65,531.46 78.91,529.32 82.38,527.04 C85.86,524.75 90.11,522.17 93.98,520.03 C97.84,517.89 101.34,515.99 105.57,514.19 C109.81,512.39 114.76,510.68 119.38,509.22 C124.01,507.76 128.70,506.60 133.32,505.43 C137.95,504.26 142.51,503.14 147.13,502.22 C151.76,501.29 157.21,500.51 161.07,499.88 C164.94,499.25 165.76,498.76 170.32,498.42 C174.88,498.08 181.55,498.13 188.43,497.84 C195.32,497.54 203.92,496.67 211.62,496.67 C219.33,496.67 226.98,497.30 234.69,497.84 C242.39,498.37 250.15,499.30 257.88,499.88 C265.61,500.46 275.01,500.76 281.07,501.34 C287.13,501.92 290.08,502.85 294.23,503.38 C298.37,503.92 302.48,504.16 305.95,504.55 C309.43,504.94 311.81,505.28 315.07,505.72 C318.33,506.16 321.15,506.55 325.49,507.18 C329.84,507.81 335.27,508.79 341.13,509.52 C346.99,510.25 354.16,511.07 360.67,511.56 C367.19,512.05 372.61,512.19 380.21,512.44 C387.81,512.68 397.59,513.07 406.27,513.02 C414.96,512.97 424.95,512.63 432.33,512.14 C439.71,511.66 444.05,510.93 450.57,510.10 C457.08,509.27 464.68,508.15 471.41,507.18 C478.15,506.21 484.44,505.18 490.96,504.26 C497.47,503.34 507.24,502.07 510.50,501.63" stroke="#d42020" stroke-width="2.45" fill="none" stroke-dasharray="0 4.8" stroke-linecap="round"/>
<path d="M58.54,568.50 L59.02,566.46 L59.49,564.41 L59.97,562.37 L60.37,560.40 L60.78,558.44 L61.18,556.47 L61.58,554.51 L61.99,552.55 L62.49,550.54 L63.10,548.50 L63.71,546.45 L64.33,544.35 L64.96,542.18 L65.59,540.01 L66.23,537.84 L66.57,539.85 L66.92,541.86 L67.27,543.87 L67.62,545.89 L68.51,547.77 L69.45,545.56 L69.59,543.50 L69.74,541.44 L69.89,539.38 L70.04,537.33 L70.19,535.27 L70.34,533.21 L70.49,531.15 L70.64,529.09 L70.79,527.04 L71.49,529.21 L72.20,531.37 L72.91,533.54 L74.11,531.68 L74.68,529.72 L75.25,527.75 L75.82,525.79 L76.39,523.82 L76.94,525.84 L77.49,527.85 L78.04,529.86 L78.59,531.87 L79.68,529.90 L80.23,527.91 L80.78,525.93 L81.33,523.94 L82.55,525.95 L83.18,527.95 L83.81,529.96 L85.77,528.50 L87.72,526.42 L89.81,526.13 L91.63,524.03 L93.19,523.82 L94.65,521.85 L95.99,519.43 L97.33,518.54 L98.67,516.95 L99.58,513.85 L100.49,511.67 L101.40,511.35 L102.31,509.77 L103.23,507.34 L104.79,504.62 L106.35,504.13 L107.92,502.54 L110.20,502.00 L112.48,501.11 L114.76,501.62 L117.04,501.39 L118.86,502.66 L119.38,505.99 L120.42,503.11 L122.77,502.34 L124.85,503.65 L126.94,502.75 L128.94,504.46 L130.86,504.62 L132.79,507.08 L134.71,506.21 L136.69,508.05 L138.73,506.32 L140.77,505.75 L142.72,504.85 L144.57,503.92 L146.42,503.96 L148.27,501.14 L150.12,501.32 L152.07,500.52 L154.14,500.78 L156.20,499.93 L158.26,499.18 L160.32,500.00 L162.39,499.24 L164.45,499.73 L166.52,498.62 L168.58,499.24 L170.64,497.71 L172.71,498.95 L174.77,497.54 L176.84,497.85 L178.95,496.84 L181.05,497.23 L183.16,496.31 L185.27,497.48 L187.38,496.78 L189.49,497.03 L191.60,496.40 L193.70,496.68 L195.81,496.71 L197.92,496.67 L200.03,496.84 L202.14,495.61 L204.25,495.81 L206.35,495.76 L208.46,495.97 L210.57,495.03 L212.68,495.43 L214.79,494.10 L216.90,495.68 L219.00,494.66 L221.11,496.06 L223.22,494.70 L225.30,496.21 L227.39,495.52 L229.47,495.92 L231.56,495.73 L233.64,496.38 L235.75,496.62 L237.88,496.96 L240.02,496.80 L242.15,496.86 L244.28,497.86 L246.41,497.42 L248.50,497.94 L250.58,497.71 L252.66,498.41 L254.75,498.55 L256.83,499.35 L258.93,498.74 L261.04,500.40 L263.15,498.78 L265.25,500.33 L267.36,499.29 L269.47,501.11 L271.58,500.15 L273.69,501.01 L275.80,500.15 L277.90,501.59 L280.01,500.23 L282.07,501.55 L284.09,501.25 L286.10,501.88 L288.11,502.28 L290.13,502.21 L292.14,502.82 L294.27,502.12 L296.41,504.21 L298.54,503.48 L300.67,505.17 L302.80,504.04 L304.91,506.43 L306.99,505.63 L309.08,507.25 L311.16,506.99 L313.25,508.31 L315.33,507.77 L317.46,508.92 L319.60,508.68 L321.73,508.57 L323.86,508.72 L325.99,509.54 L328.10,508.26 L330.18,508.63 L332.27,508.41 L334.35,507.92 L336.44,508.03 L338.52,507.42 L340.63,508.54 L342.74,507.73 L344.85,509.13 L346.96,507.76 L349.06,509.54 L351.17,508.05 L353.28,509.39 L355.39,507.98 L357.50,509.42 L359.61,508.83 L361.71,509.65 L363.82,508.74 L365.93,509.65 L368.04,508.24 L370.15,509.31 L372.26,508.60 L374.35,509.94 L376.44,509.09 L378.52,509.96 L380.61,510.56 L382.69,510.51 L384.77,510.23 L386.88,510.53 L388.99,510.67 L391.10,510.00 L393.21,511.01 L395.32,510.25 L397.39,511.05 L399.43,509.66 L401.46,510.94 L403.50,510.38 L405.54,511.67 L407.57,510.81 L409.71,511.05 L411.84,509.96 L413.97,511.21 L416.10,509.79 L418.23,510.91 L420.34,510.39 L422.43,509.31 L424.51,509.54 L426.60,509.40 L428.68,508.91 L430.77,508.94 L432.87,508.55 L434.98,507.75 L437.09,508.69 L439.20,506.93 L441.31,507.21 L443.40,506.27 L445.49,507.68 L447.57,506.06 L449.66,508.00 L451.74,506.19 L453.83,507.32 L455.93,506.64 L458.04,507.72 L460.15,506.35 L462.26,507.10 L464.37,506.77 L466.48,506.99 L468.58,507.10 L470.69,506.82 L472.80,506.46 L474.91,506.23 L477.02,506.66 L479.12,505.70 L481.23,507.22 L483.34,506.44 L485.45,507.36 L487.56,505.62 L489.67,506.66 L491.77,505.48 L493.88,506.63 L495.99,505.39 L498.10,506.32 L500.21,504.63 L502.27,505.94 L504.32,505.09 L506.38,505.03 L508.44,504.89 L510.50,505.27" stroke="#1d1dc8" stroke-width="2.2" fill="none" stroke-linejoin="round" stroke-linecap="round"/>
<path d="M156.12,597.99 C158.49,596.68 165.37,592.74 170.32,590.11 C175.27,587.48 180.68,584.66 185.83,582.22 C190.97,579.79 195.56,577.65 201.20,575.51 C206.85,573.37 213.54,571.18 219.70,569.38 C225.87,567.58 232.54,566.21 238.20,564.70 C243.87,563.20 249.58,561.59 253.71,560.32 C257.83,559.06 258.16,558.72 262.96,557.11 C267.76,555.51 276.46,552.63 282.50,550.69 C288.54,548.74 293.70,547.28 299.18,545.43 C304.65,543.58 309.93,541.39 315.33,539.59 C320.74,537.79 325.82,536.23 331.62,534.63 C337.42,533.02 343.95,531.42 350.12,529.96 C356.29,528.50 362.84,527.04 368.62,525.87 C374.39,524.70 379.37,523.92 384.77,522.95 C390.18,521.97 395.31,520.81 401.06,520.03 C406.81,519.25 412.42,519.05 419.30,518.28 C426.18,517.50 434.67,516.18 442.36,515.36 C450.05,514.53 457.71,513.99 465.42,513.31 C473.13,512.63 481.10,512.00 488.61,511.27 C496.13,510.54 506.85,509.32 510.50,508.93" stroke="#8a8a8a" stroke-width="2" fill="none" stroke-dasharray="5.2 2.3"/>
</g>
<rect x="263.60" y="545.20" width="242.70" height="48.80" fill="#fff" stroke="#737373" stroke-width="1"/>
<path d="M266.80,553.50H286.00" stroke="#1d1dc8" stroke-width="2.2"/>
<path d="M267.80,569.40H286.00" stroke="#d42020" stroke-width="2.4" stroke-dasharray="0 5" stroke-linecap="round"/>
<path d="M266.80,584.80H286.00" stroke="#8a8a8a" stroke-width="1.8" stroke-dasharray="5.2 2.3"/>
<text x="292.30" y="558.10" font-size="12.5">measurement</text>
<text x="292.30" y="574.00" font-size="12.5">analytical prediction</text>
<text x="292.30" y="589.40" font-size="12.5">noise level of measurement system</text>
<rect x="54.50" y="480.90" width="456.00" height="116.80" fill="none" stroke="#737373" stroke-width="1.1"/>
<path d="M54.50,597.70v-4.00M54.50,480.90v4.00M67.53,597.70v-2.50M67.53,480.90v2.50M80.56,597.70v-2.50M80.56,480.90v2.50M93.59,597.70v-2.50M93.59,480.90v2.50M106.61,597.70v-2.50M106.61,480.90v2.50M119.64,597.70v-4.00M119.64,480.90v4.00M132.67,597.70v-2.50M132.67,480.90v2.50M145.70,597.70v-2.50M145.70,480.90v2.50M158.73,597.70v-2.50M158.73,480.90v2.50M171.76,597.70v-2.50M171.76,480.90v2.50M184.79,597.70v-4.00M184.79,480.90v4.00M197.81,597.70v-2.50M197.81,480.90v2.50M210.84,597.70v-2.50M210.84,480.90v2.50M223.87,597.70v-2.50M223.87,480.90v2.50M236.90,597.70v-2.50M236.90,480.90v2.50M249.93,597.70v-4.00M249.93,480.90v4.00M262.96,597.70v-2.50M262.96,480.90v2.50M275.99,597.70v-2.50M275.99,480.90v2.50M289.01,597.70v-2.50M289.01,480.90v2.50M302.04,597.70v-2.50M302.04,480.90v2.50M315.07,597.70v-4.00M315.07,480.90v4.00M328.10,597.70v-2.50M328.10,480.90v2.50M341.13,597.70v-2.50M341.13,480.90v2.50M354.16,597.70v-2.50M354.16,480.90v2.50M367.19,597.70v-2.50M367.19,480.90v2.50M380.21,597.70v-4.00M380.21,480.90v4.00M393.24,597.70v-2.50M393.24,480.90v2.50M406.27,597.70v-2.50M406.27,480.90v2.50M419.30,597.70v-2.50M419.30,480.90v2.50M432.33,597.70v-2.50M432.33,480.90v2.50M445.36,597.70v-4.00M445.36,480.90v4.00M458.39,597.70v-2.50M458.39,480.90v2.50M471.41,597.70v-2.50M471.41,480.90v2.50M484.44,597.70v-2.50M484.44,480.90v2.50M497.47,597.70v-2.50M497.47,480.90v2.50M510.50,597.70v-4.00M510.50,480.90v4.00M54.50,597.70h4.00M510.50,597.70h-4.00M54.50,583.10h2.50M510.50,583.10h-2.50M54.50,568.50h4.00M510.50,568.50h-4.00M54.50,553.90h2.50M510.50,553.90h-2.50M54.50,539.30h4.00M510.50,539.30h-4.00M54.50,524.70h2.50M510.50,524.70h-2.50M54.50,510.10h4.00M510.50,510.10h-4.00M54.50,495.50h2.50M510.50,495.50h-2.50M54.50,480.90h4.00M510.50,480.90h-4.00" stroke="#737373" stroke-width="1" fill="none"/>
<text transform="translate(54.50,610.30) scale(0.94,1)" font-size="12.2" stroke="#000" stroke-width="0.3" text-anchor="middle">0</text>
<text transform="translate(119.64,610.30) scale(0.94,1)" font-size="12.2" stroke="#000" stroke-width="0.3" text-anchor="middle">0.5</text>
<text transform="translate(184.79,610.30) scale(0.94,1)" font-size="12.2" stroke="#000" stroke-width="0.3" text-anchor="middle">1</text>
<text transform="translate(249.93,610.30) scale(0.94,1)" font-size="12.2" stroke="#000" stroke-width="0.3" text-anchor="middle">1.5</text>
<text transform="translate(315.07,610.30) scale(0.94,1)" font-size="12.2" stroke="#000" stroke-width="0.3" text-anchor="middle">2</text>
<text transform="translate(380.21,610.30) scale(0.94,1)" font-size="12.2" stroke="#000" stroke-width="0.3" text-anchor="middle">2.5</text>
<text transform="translate(445.36,610.30) scale(0.94,1)" font-size="12.2" stroke="#000" stroke-width="0.3" text-anchor="middle">3</text>
<text transform="translate(510.50,610.30) scale(0.94,1)" font-size="12.2" stroke="#000" stroke-width="0.3" text-anchor="middle">3.5</text>
<text transform="translate(52.4,601.40) scale(0.94,1)" font-size="12.2" stroke="#000" stroke-width="0.3" text-anchor="end">30</text>
<text transform="translate(52.4,572.20) scale(0.94,1)" font-size="12.2" stroke="#000" stroke-width="0.3" text-anchor="end">40</text>
<text transform="translate(52.4,543.00) scale(0.94,1)" font-size="12.2" stroke="#000" stroke-width="0.3" text-anchor="end">50</text>
<text transform="translate(52.4,513.80) scale(0.94,1)" font-size="12.2" stroke="#000" stroke-width="0.3" text-anchor="end">60</text>
<text transform="translate(52.4,484.60) scale(0.94,1)" font-size="12.2" stroke="#000" stroke-width="0.3" text-anchor="end">70</text>
<text x="202.70" y="625.80" font-size="15.5" font-weight="normal" letter-spacing="0.44" stroke="#000" stroke-width="0.6">frequency [kHz x 100]</text>
<text transform="translate(14.30,539.30) rotate(-90)" font-size="15.5" font-weight="normal" letter-spacing="0.75" stroke="#000" stroke-width="0.5" text-anchor="middle">sound pressure</text>
<text transform="translate(31.70,539.80) rotate(-90)" font-size="15.5" font-weight="normal" letter-spacing="0.62" stroke="#000" stroke-width="0.5" text-anchor="middle">level [dB]</text>
<text x="9.30" y="618.90" font-size="18.5">(d)</text>
</svg>
</body></html>
